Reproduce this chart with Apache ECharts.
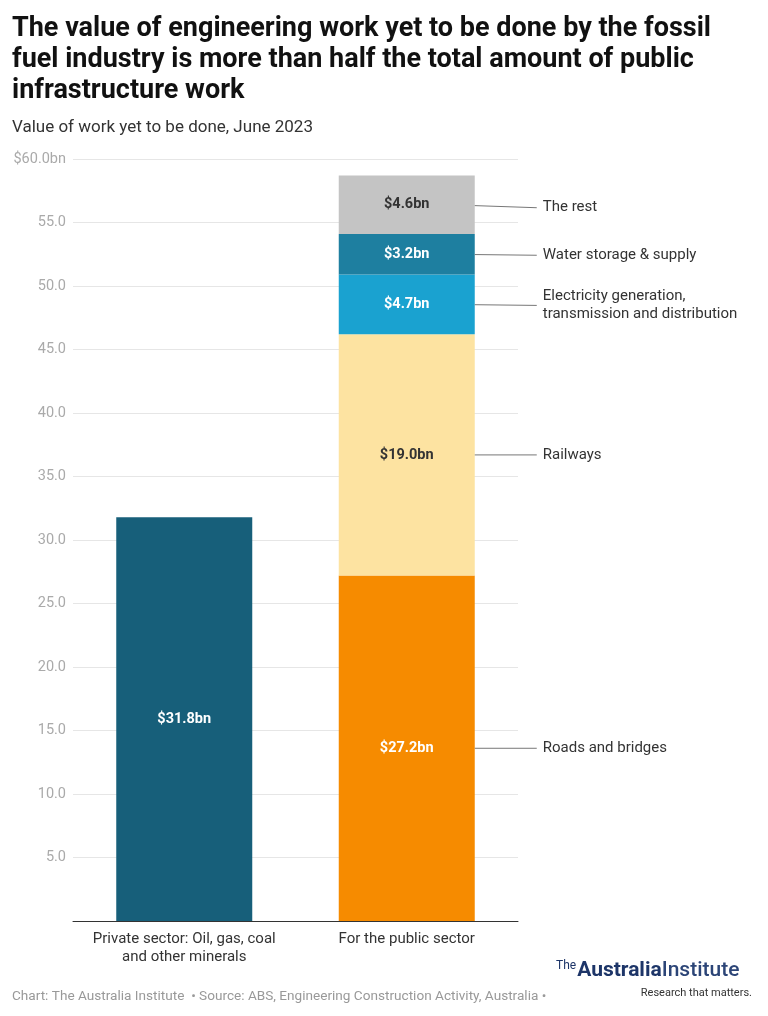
<!DOCTYPE html>
<html>
<head>
<meta charset="utf-8">
<script src="https://cdn.jsdelivr.net/npm/echarts@6/dist/echarts.min.js"></script>
<style>
html,body{margin:0;padding:0;background:#fff;}
#chart{width:768px;height:1016px;}
</style>
</head>
<body>
<div id="chart"></div>
<script>
const categories = ['Private sector: Oil, gas, coal\nand other minerals', 'For the public sector'];
const privateValues = [31.8, '-'];
const segmentNames = ['Roads and bridges', 'Railways', 'Electricity generation,\ntransmission and distribution', 'Water storage & supply', 'The rest'];
const publicValues = [27.2, 19.0, 4.7, 3.2, 4.6];
const segmentColors = ['#f68b00', '#fde3a1', '#1aa2d0', '#1e7fa0', '#c4c4c4'];
const segmentLabelColors = ['#ffffff', '#333333', '#ffffff', '#ffffff', '#333333'];
const privateColor = '#175f7a';

const BAR_W = 136;
const FONT = 'Roboto, "Noto Sans", sans-serif';

const fmt = v => '$' + v.toFixed(1) + 'bn';

const series = [];
series.push({
  type: 'bar', stack: 'all', barWidth: BAR_W,
  data: privateValues,
  itemStyle: { color: privateColor },
  label: { show: true, position: 'inside', color: '#fff', fontWeight: 'bold', fontSize: 14.5, fontFamily: FONT,
    formatter: p => fmt(p.value) },
  silent: true
});
publicValues.forEach((v, i) => {
  series.push({
    type: 'bar', stack: 'all', barWidth: BAR_W,
    name: segmentNames[i],
    data: ['-', v],
    itemStyle: { color: segmentColors[i] },
    label: { show: true, position: 'inside', color: segmentLabelColors[i], fontWeight: 'bold', fontSize: 14.5, fontFamily: FONT,
      formatter: p => fmt(p.value) },
    silent: true
  });
});

// annotation data: [category index, segment midpoint, segment index]
const annData = [];
let cum = 0;
publicValues.forEach((v, i) => { annData.push([1, cum + v / 2, i]); cum += v; });
const labelShift = [0, 0, 1, 1, 3];

series.push({
  type: 'custom',
  silent: true,
  data: annData,
  z: 10,
  renderItem: function (params, api) {
    const c = api.coord([api.value(0), api.value(1)]);
    const idx = api.value(2);
    const x0 = c[0] + BAR_W / 2;
    const x1 = x0 + 62;
    const y1 = c[1] + labelShift[idx];
    return {
      type: 'group',
      children: [
        { type: 'line', shape: { x1: x0, y1: c[1] + labelShift[idx] * 0.3, x2: x1, y2: y1 }, style: { stroke: '#777', lineWidth: 1 } },
        { type: 'text', x: x1 + 6, y: y1, style: { text: segmentNames[idx], fill: '#333', font: '15px ' + FONT, verticalAlign: 'middle', align: 'left', lineHeight: 18 } }
      ]
    };
  }
});

const chart = echarts.init(document.getElementById('chart'), null, { renderer: 'canvas' });
chart.setOption({
  backgroundColor: '#ffffff',
  animation: false,
  title: [{
    text: 'The value of engineering work yet to be done by the fossil\nfuel industry is more than half the total amount of public\ninfrastructure work',
    left: 12, top: 14, padding: 0,
    textStyle: { fontFamily: FONT, fontWeight: 'bold', fontSize: 27, color: '#111', lineHeight: 31 }
  }, {
    text: 'Value of work yet to be done, June 2023',
    left: 12, top: 119, padding: 0,
    textStyle: { fontFamily: FONT, fontWeight: 'normal', fontSize: 17, color: '#333' }
  }],
  grid: { left: 73, right: 250, top: 159, bottom: 95, containLabel: false },
  xAxis: {
    type: 'category', data: categories,
    axisLine: { show: true, lineStyle: { color: '#333', width: 1 } },
    axisTick: { show: false },
    axisLabel: { color: '#333', fontSize: 15, fontFamily: FONT, lineHeight: 18, margin: 9, interval: 0 }
  },
  yAxis: {
    type: 'value', min: 0, max: 60, interval: 5,
    axisLine: { show: false }, axisTick: { show: false },
    splitLine: { show: true, lineStyle: { color: '#e6e6e6', width: 1 } },
    axisLabel: { color: '#aaaaaa', fontSize: 14.5, fontFamily: FONT, margin: 7,
      formatter: v => v === 0 ? '' : (v === 60 ? '$60.0bn' : v.toFixed(1)) }
  },
  series: series,
  graphic: [
    { type: 'text', left: 12, top: 990, style: { text: 'Chart: The Australia Institute  • Source: ABS, Engineering Construction Activity, Australia •', fill: '#999', font: '13.6px ' + FONT } },
    { type: 'text', left: 556, top: 960, style: { text: '{a|The}{b|Australia}{c|Institute}', rich: {
        a: { fontFamily: FONT, fontSize: 12, fill: '#1d3568', verticalAlign: 'top', padding: [0, 1, 8, 0] },
        b: { fontFamily: FONT, fontSize: 21, fontWeight: 'bold', fill: '#1d3568' },
        c: { fontFamily: FONT, fontSize: 21, fontWeight: 500, fill: '#2c4577' }
      } } },
    { type: 'text', right: 16, top: 988, style: { text: 'Research that matters.', fill: '#333', font: '11px ' + FONT } }
  ]
});
</script>
</body>
</html>
